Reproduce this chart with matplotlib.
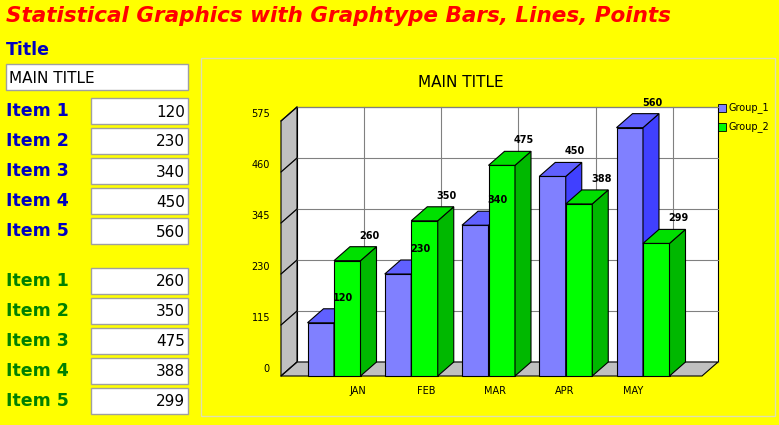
import matplotlib
matplotlib.use("Agg")
import matplotlib.pyplot as plt
from matplotlib.patches import Rectangle, Polygon
from matplotlib.transforms import IdentityTransform

categories = ["JAN", "FEB", "MAR", "APR", "MAY"]
group1 = [120, 230, 340, 450, 560]
group2 = [260, 350, 475, 388, 299]
yticks = [0, 115, 230, 345, 460, 575]
series_names = ["Group_1", "Group_2"]
chart_title = "MAIN TITLE"

W, H = 779, 425
fig = plt.figure(figsize=(W/100, H/100), dpi=100)
fig.patch.set_facecolor("#FFFF00")

# UI overlay axes in pixel coords
ui = fig.add_axes([0, 0, 1, 1])
ui.set_xlim(0, W); ui.set_ylim(H, 0); ui.axis("off")
ui.text(6, 16, "Statistical Graphics with Graphtype Bars, Lines, Points", color="#FF0000",
        fontsize=15.5, fontweight="bold", fontstyle="italic", va="center", ha="left")
ui.text(6, 50, "Title", color="#0000C0", fontsize=12.5, fontweight="bold", va="center")

def box(x, y, w, h, txt, ha):
    ui.add_patch(Rectangle((x, y), w, h, facecolor="white", edgecolor="#A0A0A0", lw=1))
    if ha == "left":
        ui.text(x+3, y+h/2+1, txt, fontsize=11, va="center", ha="left")
    else:
        ui.text(x+w-3, y+h/2+1, txt, fontsize=11, va="center", ha="right")

box(6, 64, 182, 26, chart_title, "left")
for i, v in enumerate(group1):
    y = 111 + 30*i
    ui.text(6, y, f"Item {i+1}", color="#0000C0", fontsize=12.5, fontweight="bold", va="center")
    box(91, y-13, 97, 26, str(v), "right")
for i, v in enumerate(group2):
    y = 281 + 30*i
    ui.text(6, y, f"Item {i+1}", color="#008000", fontsize=12.5, fontweight="bold", va="center")
    box(91, y-13, 97, 26, str(v), "right")

# chart panel
ui.add_patch(Rectangle((201, 58), 574, 358, facecolor="#FFFF00", edgecolor="#E0E0B0", lw=1))
ui.text(461, 82, chart_title, fontsize=11, ha="center", va="center")

# chart axes (front plane)
left_px, right_px, zero_px, top_px = 281, 702, 376, 121
ax = fig.add_axes([left_px/W, (H-zero_px)/H, (right_px-left_px)/W, (zero_px-top_px)/H])
x_step = 77.25
ax.set_xlim((left_px-334)/x_step, (right_px-334)/x_step)
ax.set_ylim(0, 575)
ax.axis("off")
ax.patch.set_alpha(0)

DX, DY = 16, 14  # depth in display pixels (y up)
T = ax.transData
def d(x, y):
    return tuple(T.transform((x, y)))
def poly(pts, fc, ec="black", lw=0.8, z=1):
    ax.add_patch(Polygon(pts, closed=True, facecolor=fc, edgecolor=ec, lw=lw,
                         transform=IdentityTransform(), zorder=z, clip_on=False))
def line(p, q, c="black", lw=0.8, z=1):
    ax.add_line(plt.Line2D([p[0], q[0]], [p[1], q[1]], color=c, lw=lw,
                           transform=IdentityTransform(), zorder=z, clip_on=False))
def sh(p, k=1.0):
    return (p[0]+DX*k, p[1]+DY*k)

x0, x1 = ax.get_xlim()
# back wall
bl, br, tr, tl = sh(d(x0, 0)), sh(d(x1, 0)), sh(d(x1, 575)), sh(d(x0, 575))
poly([bl, br, tr, tl], "white", z=1)
for t in yticks:
    line(sh(d(x0, t)), sh(d(x1, t)), c="#808080", lw=0.8, z=1.1)
    line(d(x0, t), sh(d(x0, t)), c="#606060", lw=0.8, z=1.3)
for i in range(5):
    line(sh(d(i+0.18, 0)), sh(d(i+0.18, 575)), c="#808080", lw=0.8, z=1.1)
# left wall
poly([d(x0, 0), sh(d(x0, 0)), sh(d(x0, 575)), d(x0, 575)], "#C0C0C0", z=1.2)
for t in yticks:
    line(d(x0, t), sh(d(x0, t)), c="black", lw=0.8, z=1.3)
# floor
poly([d(x0, 0), d(x1, 0), sh(d(x1, 0)), sh(d(x0, 0))], "#C0C0C0", z=1.2)

for t in yticks:
    p = d(x0, t)
    ax.text(p[0]-11, p[1]+7, str(t), fontsize=7, ha="right", va="center",
            transform=IdentityTransform())

bw = 26.5 / x_step
cols = [("#8080FF", "#4040FF", "#6060FF"), ("#00FF00", "#00B800", "#00E000")]
z = 2
for i in range(len(categories)):
    for s, vals in enumerate([group1, group2]):
        v = vals[i]
        xa = i - bw + s*bw
        xb = xa + bw
        front, side, top = cols[s]
        p00, p10, p11, p01 = d(xa, 0), d(xb, 0), d(xb, v), d(xa, v)
        poly([p00, p10, p11, p01], front, z=z)
        poly([p10, sh(p10), sh(p11), p11], side, z=z)
        poly([p01, p11, sh(p11), sh(p01)], top, z=z)
        z += 0.1
        ax.text(p11[0]+9, p11[1]+25, str(v), fontsize=7, fontweight="bold",
                ha="center", va="center", transform=IdentityTransform(), zorder=10)

for i, c in enumerate(categories):
    p = d(i*0.89 + 0.31, 0)
    ax.text(p[0], p[1]-15, c, fontsize=7, ha="center", va="center",
            transform=IdentityTransform())

# legend
for s, name in enumerate(series_names):
    y = 108 + 19*s
    ui.add_patch(Rectangle((718, y-4), 8, 8, facecolor=cols[s][0], edgecolor="black", lw=0.6))
    ui.text(729, y, name, fontsize=7, va="center", ha="left")

fig.savefig("out.png", dpi=100, facecolor=fig.get_facecolor())
